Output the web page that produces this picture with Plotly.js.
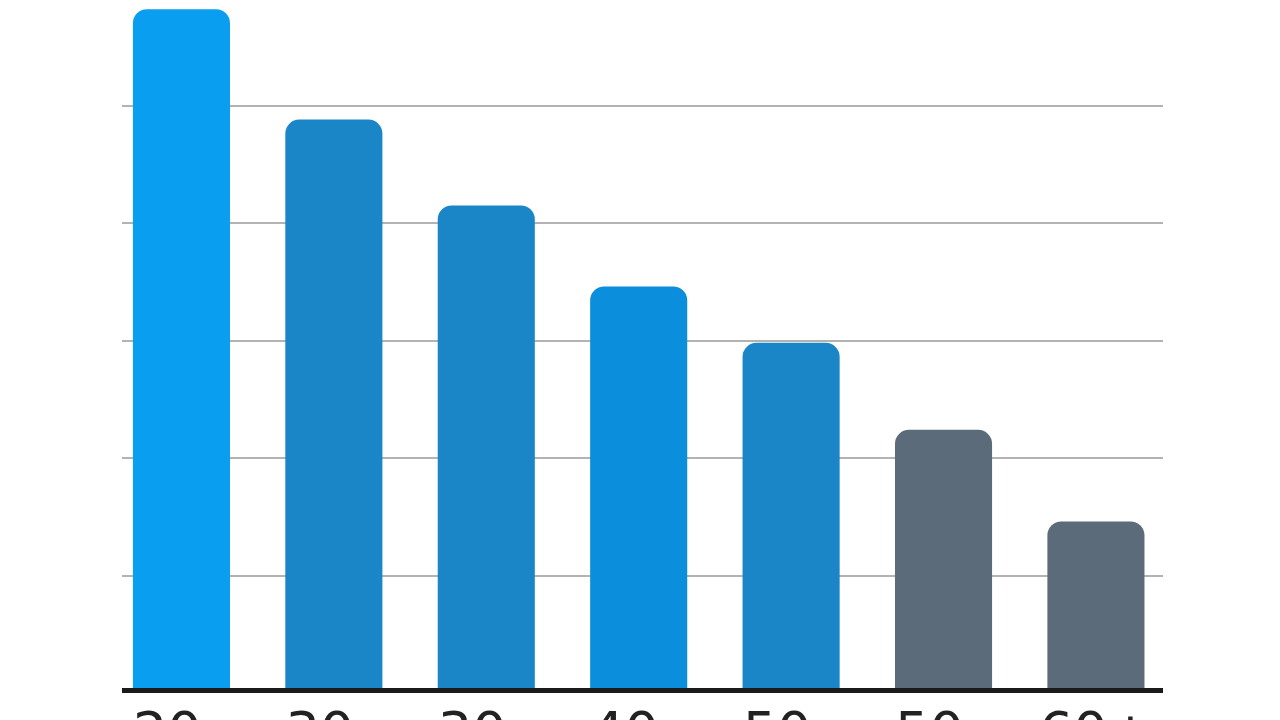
<!DOCTYPE html>
<html>
<head>
<meta charset="utf-8">
<script src="https://cdn.plot.ly/plotly-3.0.1.min.js"></script>
<style>html,body{margin:0;padding:0;background:#fff;}#chart{width:1280px;height:720px;}</style>
</head>
<body>
<div id="chart"></div>
<script>
const positions = [0, 1, 2, 3, 4, 5, 6];
const tickLabels = ["20s", "30s", "30s", "40s", "50s", "50s", "60+"];
const values = [58.2, 48.8, 41.5, 34.6, 29.8, 22.4, 14.6];
const barColors = ["#0a9ef0", "#1a86c8", "#1a86c8", "#0b8edc", "#1a86c8", "#5c6b79", "#5c6b79"];

const trace = {
  type: "bar",
  x: positions,
  y: values,
  marker: { color: barColors, cornerradius: 14, line: { width: 0 } },
  width: 0.637,
  hoverinfo: "none"
};

const layout = {
  width: 1280,
  height: 720,
  margin: { l: 122, r: 117, t: 0, b: 32, pad: 0 },
  paper_bgcolor: "#ffffff",
  plot_bgcolor: "#ffffff",
  showlegend: false,
  xaxis: {
    range: [-0.39, 6.44],
    tickvals: positions,
    ticktext: tickLabels,
    showgrid: false,
    zeroline: false,
    showline: true,
    linecolor: "#1a1a1a",
    linewidth: 5,
    ticks: "",
    ticklabelstandoff: -8,
    tickfont: { family: "DejaVu Sans", size: 54, color: "#222222" },
    fixedrange: true
  },
  yaxis: {
    range: [0.4255, 58.98],
    tick0: 0,
    dtick: 10,
    showgrid: true,
    gridcolor: "#b3b3b3",
    gridwidth: 2,
    zeroline: false,
    showline: false,
    showticklabels: false,
    ticks: "",
    fixedrange: true
  }
};

Plotly.newPlot("chart", [trace], layout, { displayModeBar: false, staticPlot: true });
</script>
</body>
</html>
